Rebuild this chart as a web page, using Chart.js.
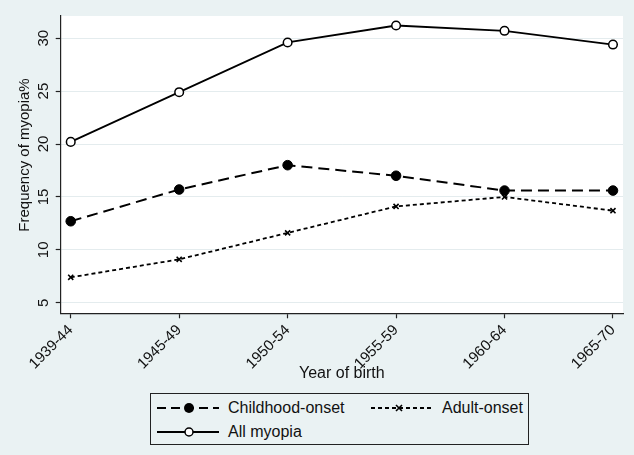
<!DOCTYPE html>
<html lang="en">
<head>
    <meta charset="UTF-8">
    <title>Frequency of myopia by year of birth</title>
    <script src="https://cdn.jsdelivr.net/npm/chart.js"></script>
    <style>
        html, body { margin: 0; padding: 0; background: #eaf2f3; }
        body { width: 634px; height: 455px; position: relative; overflow: hidden; font-family: "Liberation Sans", Arial, sans-serif; }
        #chart { position: absolute; left: 0; top: 0; }
        #legend {
            position: absolute; left: 150px; top: 393px; width: 377px; height: 50px;
            border: 1px solid #222; background: #eaf2f3; color: #111; font-size: 16px;
        }
        .item { position: absolute; height: 20px; line-height: 20px; white-space: nowrap; }
        .item svg { position: absolute; left: 0; top: 0; }
        .item span { position: absolute; left: 72px; top: 0; }
    </style>
</head>
<body>
    <canvas id="chart" width="634" height="455"></canvas>

    <div id="legend">
        <div class="item" style="left:5px; top:4px;">
            <svg width="64" height="20"><line x1="1" y1="10" x2="63" y2="10" stroke="#000" stroke-width="2" stroke-dasharray="9,5"/><circle cx="33" cy="10" r="5" fill="#000"/></svg>
            <span>Childhood-onset</span>
        </div>
        <div class="item" style="left:219px; top:4px;">
            <svg width="64" height="20"><line x1="1" y1="10" x2="63" y2="10" stroke="#000" stroke-width="1.8" stroke-dasharray="4,3"/><path d="M26,7 L32,13 M32,7 L26,13" stroke="#000" stroke-width="1.6"/></svg>
            <span>Adult-onset</span>
        </div>
        <div class="item" style="left:5px; top:28px;">
            <svg width="64" height="20"><line x1="1" y1="10" x2="63" y2="10" stroke="#000" stroke-width="1.8"/><circle cx="33" cy="10" r="4" fill="#fff" stroke="#000" stroke-width="1.5"/></svg>
            <span>All myopia</span>
        </div>
    </div>

    <script>
        // Birth cohorts on the x axis
        const cohorts = ["1939-44", "1945-49", "1950-54", "1955-59", "1960-64", "1965-70"];
        // Frequency of myopia (%)
        const childhoodOnset = [12.7, 15.7, 18.0, 17.0, 15.6, 15.6];
        const adultOnset = [7.4, 9.1, 11.6, 14.1, 15.0, 13.7];
        const allMyopia = [20.2, 24.9, 29.6, 31.2, 30.7, 29.4];
        const yTicks = [5, 10, 15, 20, 25, 30];

        const font = '"Liberation Sans", Arial, sans-serif';

        function points(values) {
            return values.map((v, i) => ({ x: i, y: v }));
        }

        // white plot region, rotated y labels and axis titles
        const stataLook = {
            id: 'stataLook',
            beforeDraw(chart) {
                const a = chart.chartArea;
                const ctx = chart.ctx;
                ctx.save();
                ctx.fillStyle = '#ffffff';
                ctx.fillRect(a.left, a.top, a.right - a.left, a.bottom - a.top);
                ctx.restore();
            },
            afterDraw(chart) {
                const ctx = chart.ctx;
                const a = chart.chartArea;
                const yScale = chart.scales.y;
                ctx.save();
                ctx.fillStyle = '#111';
                ctx.textAlign = 'center';
                ctx.textBaseline = 'middle';
                ctx.font = '15px ' + font;
                yScale.ticks.forEach(t => {
                    const y = yScale.getPixelForValue(t.value);
                    ctx.save();
                    ctx.translate(44, y);
                    ctx.rotate(-Math.PI / 2);
                    ctx.fillText(String(t.value), 0, 0);
                    ctx.restore();
                });
                ctx.save();
                ctx.translate(25, 155);
                ctx.rotate(-Math.PI / 2);
                ctx.fillText('Frequency of myopia%', 0, 0);
                ctx.restore();
                ctx.font = '16px ' + font;
                ctx.fillText('Year of birth', (a.left + a.right) / 2, 374);
                ctx.restore();
            }
        };

        new Chart(document.getElementById('chart'), {
            type: 'line',
            data: {
                datasets: [
                    {
                        label: 'All myopia',
                        data: points(allMyopia),
                        borderColor: '#000',
                        borderWidth: 1.8,
                        pointStyle: 'circle',
                        pointRadius: 4.3,
                        pointBorderWidth: 1.5,
                        pointBackgroundColor: '#fff',
                        pointBorderColor: '#000'
                    },
                    {
                        label: 'Childhood-onset',
                        data: points(childhoodOnset),
                        borderColor: '#000',
                        borderWidth: 2,
                        borderDash: [11, 6],
                        pointStyle: 'circle',
                        pointRadius: 4.8,
                        pointBorderWidth: 1,
                        pointBackgroundColor: '#000',
                        pointBorderColor: '#000'
                    },
                    {
                        label: 'Adult-onset',
                        data: points(adultOnset),
                        borderColor: '#000',
                        borderWidth: 1.8,
                        borderDash: [4, 3],
                        pointStyle: 'crossRot',
                        pointRadius: 3.6,
                        pointBorderWidth: 1.6,
                        pointBorderColor: '#000'
                    }
                ]
            },
            options: {
                responsive: false,
                animation: false,
                layout: { padding: { left: 0, top: 16, right: 11, bottom: 0 } },
                plugins: { legend: { display: false }, tooltip: { enabled: false } },
                scales: {
                    x: {
                        type: 'linear',
                        min: -0.0925,
                        max: 5.0925,
                        afterBuildTicks: s => { s.ticks = cohorts.map((c, i) => ({ value: i })); },
                        afterFit: s => { s.height = 455 - 313.3; },
                        ticks: {
                            minRotation: 45,
                            maxRotation: 45,
                            padding: 3,
                            color: '#111',
                            font: { family: font, size: 15 },
                            callback: v => cohorts[v]
                        },
                        grid: { drawOnChartArea: false, tickLength: 5, tickColor: '#222', tickWidth: 1.2 },
                        border: { color: '#222', width: 1.2 }
                    },
                    y: {
                        min: 4.0,
                        max: 32.1,
                        afterBuildTicks: s => { s.ticks = yTicks.map(v => ({ value: v })); },
                        afterFit: s => { s.width = 60.7; },
                        ticks: { display: false },
                        grid: { color: '#e4ecee', lineWidth: 1, tickLength: 5, tickColor: '#222', tickWidth: 1.2 },
                        border: { color: '#222', width: 1.2 }
                    }
                }
            },
            plugins: [stataLook]
        });
    </script>
</body>
</html>
